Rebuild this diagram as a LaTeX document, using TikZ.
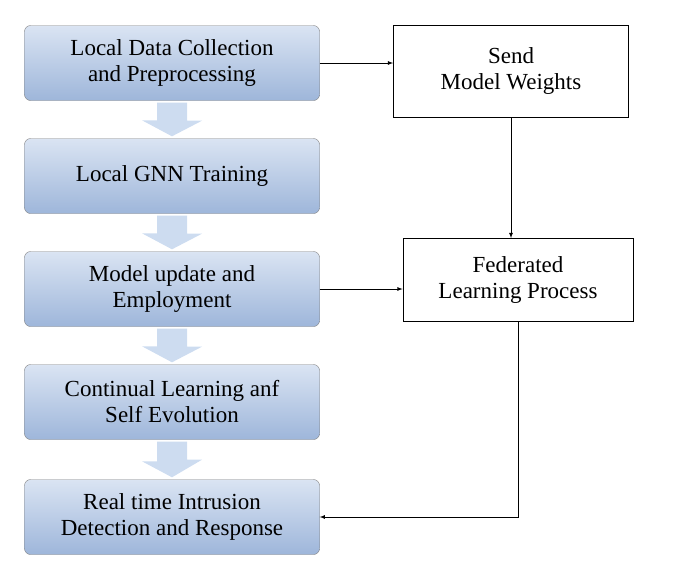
\documentclass[tikz,border=0pt]{standalone}
\usepackage{fontspec}
\setmainfont{Liberation Serif}
\usetikzlibrary{positioning,calc}
\definecolor{stagetop}{RGB}{218,228,243}
\definecolor{stagebot}{RGB}{158,182,218}
\definecolor{flowfill}{RGB}{205,220,240}

\begin{document}
\begin{tikzpicture}[x=1pt,y=-1pt,
stage/.style={draw=black!50,rounded corners=6pt,top color=stagetop,bottom color=stagebot,
  minimum width=295pt,minimum height=75pt,align=center,font=\fontsize{23}{26}\selectfont},
side/.style={draw,thick,fill=white,align=center,font=\fontsize{23}{26}\selectfont},
link/.style={thick,-latex}]
\useasboundingbox (0,0) rectangle (685,571);

\node[stage] (s1) at (172,63) {Local Data Collection\\and Preprocessing};
\node[stage] (s2) at (172,176) {Local GNN Training};
\node[stage] (s3) at (172,289) {Model update and\\Employment};
\node[stage] (s4) at (172,402) {Continual Learning anf\\Self Evolution};
\node[stage] (s5) at (172,517) {Real time Intrusion\\Detection and Response};

\node[side,minimum width=235pt,minimum height=92pt] (w) at (511,71) {Send\\Model Weights};
\node[side,minimum width=230pt,minimum height=83pt] (f) at (518,280) {Federated\\Learning Process};

% block arrows between the stages
\foreach \a/\b in {s1/s2,s2/s3,s3/s4,s4/s5}
  \fill[flowfill] ($(\a.south)+(-15,2)$) -- ++(30,0) -- ++(0,18) -- ++(15,0)
    -- ($(\b.north)+(0,-2)$) -- ++(-30,-16) -- ++(15,0) -- cycle;

\draw[link] (s1.east) -- (w.west |- s1.east);
\draw[link] (w.south) -- (w.south |- f.north);
\draw[link] (s3.east) -- (f.west |- s3.east);
\draw[link] (f.south) -- (f.south |- s5.east) -- (s5.east);
\end{tikzpicture}
\end{document}
